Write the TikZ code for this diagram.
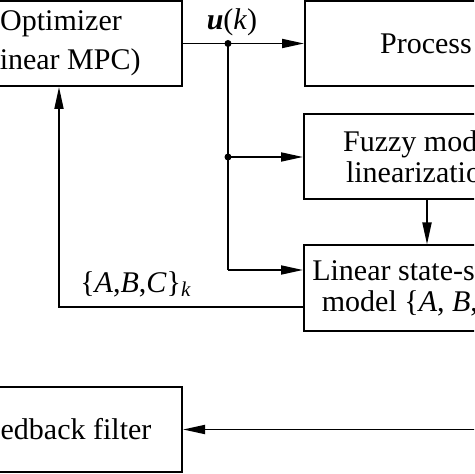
\documentclass[tikz,border=0pt]{standalone}
\usepackage{fontspec}
\setmainfont{Liberation Serif}
\usetikzlibrary{arrows.meta, positioning}

\begin{document}
\begin{tikzpicture}[
    x=0.5pt, y=-0.5pt,
    font=\fontsize{15}{15.5}\selectfont,
    block/.style={draw, line width=1pt, minimum width=121pt,
                  minimum height=42.5pt, align=center, inner sep=0pt},
    flow/.style={-{Triangle[length=11pt, width=4.5pt]}, line width=0.9pt},
    wire/.style={line width=0.9pt},
    junct/.style={circle, fill, inner sep=0pt, minimum size=3.5pt},
  ]
  \useasboundingbox (0,0) rectangle (474,474);
  \clip (0,0) rectangle (474,474);
  \node[block] (opt) at (61,43.5) {Optimizer\\[4pt](linear MPC)};
  \node[block] (proc) at (426,43.5) {Process};
  \node[block, minimum width=117pt] (fuzzy) at (421,157) {Fuzzy model\\linearization};
  \node[block, minimum width=117pt] (lin) at (421,288) {Linear state-space\\model \{\textit{A}, \textit{B}, \textit{C}\}};
  \node[block] (filt) at (61,429.5) {Feedback filter};
  % control signal and its branches
  \coordinate (ju) at (228,43.5);
  \coordinate (lintop) at ([yshift=9pt]lin.west);
  \coordinate (linbot) at ([yshift=-9.5pt]lin.west);
  \draw[flow] (opt) -- (proc);
  \node (ulabel) at (232,22) {\textbf{\textit{u}}(\textit{k})};
  \draw[wire] (ju) -- (ju |- lintop);
  \draw[flow] (ju |- fuzzy.west) -- (fuzzy.west);
  \draw[flow] (ju |- lintop) -- (lintop);
  \node[junct] (dotu) at (ju) {};
  \node[junct] (dotf) at (ju |- fuzzy.west) {};
  \draw[flow] ([xshift=3pt]fuzzy.south) -- ([xshift=3pt]lin.north);
  % model back to the optimizer
  \draw[flow] (linbot) -| ([xshift=-1pt]opt.south);
  \node (abclabel) at (136,284) {\{\textit{A},\textit{B},\textit{C}\}\textsubscript{\textit{k}}};
  \coordinate (fbsrc) at (490,429.5);
  \draw[flow] (fbsrc) -- (filt);
\end{tikzpicture}
\end{document}
